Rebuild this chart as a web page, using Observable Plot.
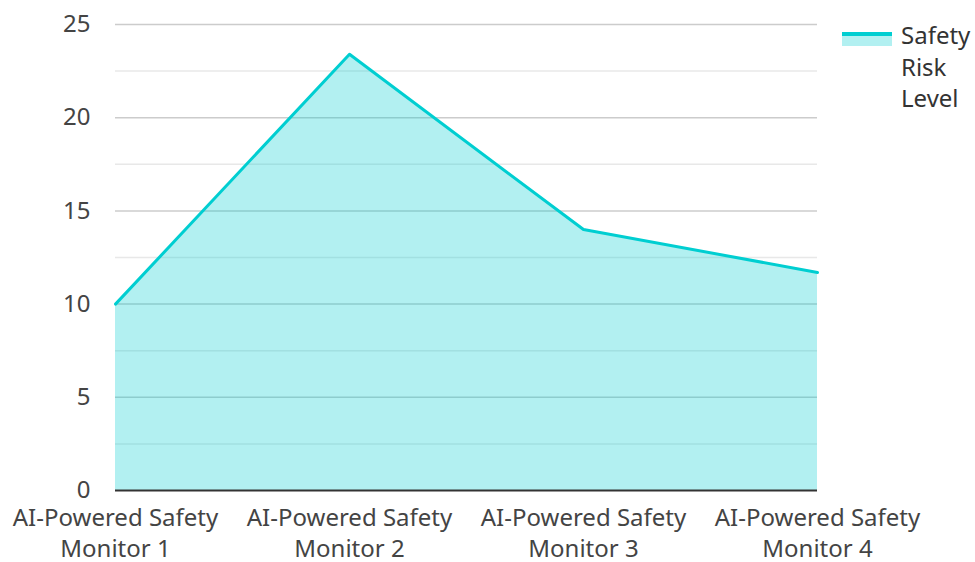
<!DOCTYPE html>
<html>
<head>
<meta charset="utf-8">
<script src="https://cdn.jsdelivr.net/npm/d3@7"></script>
<script src="https://cdn.jsdelivr.net/npm/@observablehq/plot@0.6"></script>
<style>
  html, body { margin: 0; padding: 0; background: #fff; }
  #wrap { position: relative; width: 975px; height: 562px; font-family: "Noto Sans", sans-serif; }
  #legend { position: absolute; left: 842px; top: 19px; display: flex; align-items: flex-start; }
  #legend .sw { width: 50px; height: 14px; margin-top: 13px; background: rgba(0,206,209,0.3); border-top: 4px solid #00CED1; box-sizing: border-box; }
  #legend .lbl { margin-left: 9px; font-size: 24px; line-height: 31.5px; color: #333; width: 80px; }
</style>
</head>
<body>
<div id="wrap">
  <div id="chart"></div>
  <div id="legend"><div class="sw"></div><div class="lbl">Safety<br>Risk<br>Level</div></div>
</div>
<script>
const categories = ["AI-Powered Safety Monitor 1", "AI-Powered Safety Monitor 2", "AI-Powered Safety Monitor 3", "AI-Powered Safety Monitor 4"];
const riskValues = [10, 23.4, 14, 11.7];
const majorTicks = [0, 5, 10, 15, 20, 25];
const minorTicks = [2.5, 7.5, 12.5, 17.5, 22.5];

const data = categories.map((c, i) => ({category: c, value: riskValues[i]}));
const color = "#00CED1";

const chart = Plot.plot({
  width: 975,
  height: 562,
  marginLeft: 115,
  marginRight: 158,
  marginTop: 24,
  marginBottom: 72,
  style: {fontFamily: "Noto Sans, sans-serif", fontSize: "24px", color: "#444", background: "#fff"},
  x: {type: "point", domain: categories, padding: 0},
  y: {domain: [0, 25]},
  marks: [
    Plot.ruleY(minorTicks, {stroke: "#e8e8e8", strokeWidth: 1.5}),
    Plot.ruleY(majorTicks.filter(d => d > 0), {stroke: "#cccccc", strokeWidth: 1.5}),
    Plot.areaY(data, {x: "category", y: "value", fill: color, fillOpacity: 0.3}),
    Plot.lineY(data, {x: "category", y: "value", stroke: color, strokeWidth: 3}),
    Plot.ruleY([0], {stroke: "#333", strokeWidth: 2}),
    Plot.axisY({ticks: majorTicks, tickSize: 0, tickPadding: 25, label: null, fontSize: 24}),
    Plot.axisX({tickSize: 0, tickPadding: 13, label: null, fontSize: 24, lineHeight: 1.3,
      tickFormat: d => d.replace(" Monitor", "\nMonitor")})
  ]
});
document.getElementById("chart").appendChild(chart);
</script>
</body>
</html>
